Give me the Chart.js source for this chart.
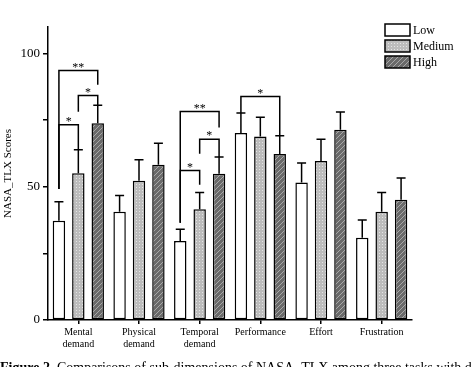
<!DOCTYPE html>
<html>
<head>
<meta charset="utf-8">
<script src="https://cdn.jsdelivr.net/npm/chart.js@4/dist/chart.umd.min.js"></script>
<style>
  body { margin: 0; background: #fff; overflow: hidden; }
  #wrap { position: relative; width: 474px; height: 367px; }
  #caption { position: absolute; left: 0; top: 360px; white-space: nowrap; font: 14px "Liberation Serif", serif; color: #000; }
</style>
</head>
<body>
<div id="wrap">
  <canvas id="myChart" width="474" height="367"></canvas>
  <div id="caption"><b>Figure 2.</b> Comparisons of sub-dimensions of NASA_TLX among three tasks with d</div>
</div>
<script>
const categories = [['Mental', 'demand'], ['Physical', 'demand'], ['Temporal', 'demand'], 'Performance', 'Effort', 'Frustration'];
const seriesNames = ['Low', 'Medium', 'High'];
const low = [37.3, 40.6, 29.7, 70.2, 51.6, 30.9];
const medium = [55.1, 52.3, 41.6, 68.9, 59.7, 40.6];
const high = [73.9, 58.3, 54.9, 62.3, 71.4, 45.1];
const lowSd = [7.1, 6.1, 4.4, 7.5, 7.3, 6.6];
const mediumSd = [8.8, 7.9, 6.3, 7.2, 8.2, 7.3];
const highSd = [6.7, 8.1, 6.3, 6.9, 6.7, 8.2];
const yTickLabels = [0, 50, 100];
// significance brackets: category, series from/to, bracket value, leg end values
const sigCat = [0, 0, 0, 2, 2, 2, 3];
const sigFrom = [0, 0, 1, 0, 0, 1, 0];
const sigTo = [2, 1, 2, 2, 1, 2, 2];
const sigLevel = [93.7, 73.3, 84.3, 78.3, 56.1, 67.9, 83.9];
const sigFromEnd = [49.2, 49.2, 78.2, 36.5, 36.5, 62.4, 77.7];
const sigToEnd = [88.3, 63.9, 80.6, 72.3, 50.8, 61.2, 69.2];
const sigText = ['**', '*', '*', '**', '*', '*', '*'];

function dotPattern() {
    const c = document.createElement('canvas');
    c.width = 3; c.height = 3;
    const g = c.getContext('2d');
    g.fillStyle = '#bcbcbc';
    g.fillRect(0, 0, 3, 3);
    g.fillStyle = '#e4e4e4';
    g.fillRect(1, 1, 1, 1);
    return g.createPattern(c, 'repeat');
}
function hatchPattern() {
    const c = document.createElement('canvas');
    c.width = 5; c.height = 5;
    const g = c.getContext('2d');
    g.fillStyle = '#6a6a6a';
    g.fillRect(0, 0, 5, 5);
    g.strokeStyle = '#a8a8a8';
    g.lineWidth = 1;
    g.beginPath();
    g.moveTo(0, 5); g.lineTo(5, 0);
    g.moveTo(-1, 1); g.lineTo(1, -1);
    g.moveTo(4, 6); g.lineTo(6, 4);
    g.stroke();
    return g.createPattern(c, 'repeat');
}

const fills = ['#ffffff', dotPattern(), hatchPattern()];
const sds = [lowSd, mediumSd, highSd];
const serif = '"Liberation Serif", "DejaVu Serif", serif';

const extras = {
    id: 'extras',
    afterDatasetsDraw(chart) {
        const ctx = chart.ctx;
        const y = chart.scales.y;
        ctx.save();
        ctx.strokeStyle = '#000';
        ctx.lineWidth = 1.5;
        // error bars
        chart.data.datasets.forEach((ds, i) => {
            chart.getDatasetMeta(i).data.forEach((bar, j) => {
                const top = y.getPixelForValue(ds.data[j] + sds[i][j]);
                ctx.beginPath();
                ctx.moveTo(bar.x, bar.y);
                ctx.lineTo(bar.x, top);
                ctx.moveTo(bar.x - 4.5, top);
                ctx.lineTo(bar.x + 4.5, top);
                ctx.stroke();
            });
        });
        // significance brackets
        ctx.fillStyle = '#000';
        ctx.font = '12px ' + serif;
        ctx.textAlign = 'center';
        ctx.textBaseline = 'bottom';
        for (let k = 0; k < sigCat.length; k++) {
            const x1 = chart.getDatasetMeta(sigFrom[k]).data[sigCat[k]].x;
            const x2 = chart.getDatasetMeta(sigTo[k]).data[sigCat[k]].x;
            const yl = y.getPixelForValue(sigLevel[k]);
            ctx.beginPath();
            ctx.moveTo(x1, y.getPixelForValue(sigFromEnd[k]));
            ctx.lineTo(x1, yl);
            ctx.lineTo(x2, yl);
            ctx.lineTo(x2, y.getPixelForValue(sigToEnd[k]));
            ctx.stroke();
            ctx.fillText(sigText[k], (x1 + x2) / 2, yl + 3);
        }
        // legend
        ctx.textAlign = 'left';
        ctx.textBaseline = 'middle';
        ctx.font = '12px ' + serif;
        seriesNames.forEach((name, i) => {
            const ly = 24 + i * 16;
            ctx.fillStyle = fills[i];
            ctx.fillRect(385, ly, 25, 12);
            ctx.strokeRect(385, ly, 25, 12);
            ctx.fillStyle = '#000';
            ctx.fillText(name, 413, ly + 6.5);
        });
        ctx.restore();
    }
};

try {
    const ctx = document.getElementById('myChart').getContext('2d');
    const myChart = new Chart(ctx, {
        type: 'bar',
        data: {
            labels: categories,
            datasets: [low, medium, high].map((d, i) => ({
                label: seriesNames[i],
                data: d,
                backgroundColor: fills[i],
                borderColor: '#000',
                borderWidth: 1.5,
                borderSkipped: false,
                categoryPercentage: 0.96,
                barPercentage: 0.64
            }))
        },
        options: {
            responsive: false,
            animation: false,
            layout: { padding: { left: 0, right: 62, top: 27, bottom: 0 } },
            plugins: {
                legend: { display: false },
                tooltip: { enabled: false }
            },
            scales: {
                x: {
                    grid: { display: true, offset: false, drawOnChartArea: false, drawTicks: true, tickLength: 4, color: '#000', lineWidth: 1.5 },
                    border: { color: '#000', width: 1.5 },
                    ticks: { color: '#000', font: { family: serif, size: 10 }, padding: 2, maxRotation: 0, autoSkip: false },
                    afterFit(scale) { scale.height = 47; }
                },
                y: {
                    min: 0,
                    max: 110,
                    grid: { display: true, drawOnChartArea: false, drawTicks: true, tickLength: 5, color: '#000', lineWidth: 1.5 },
                    border: { color: '#000', width: 1.5 },
                    afterBuildTicks(scale) {
                        scale.ticks = scale.ticks.filter(t => t.value % 25 === 0);
                    },
                    ticks: {
                        stepSize: 25,
                        color: '#000',
                        font: { family: serif, size: 13 },
                        padding: 3,
                        callback: v => yTickLabels.includes(v) ? v : ''
                    },
                    title: { display: true, text: 'NASA_TLX Scores', color: '#000', font: { family: serif, size: 11 }, padding: { top: 2, bottom: 0 } },
                    afterFit(scale) { scale.width = 48; }
                }
            }
        },
        plugins: [extras]
    });
} catch (error) {
    console.log(error);
}
</script>
</body>
</html>
